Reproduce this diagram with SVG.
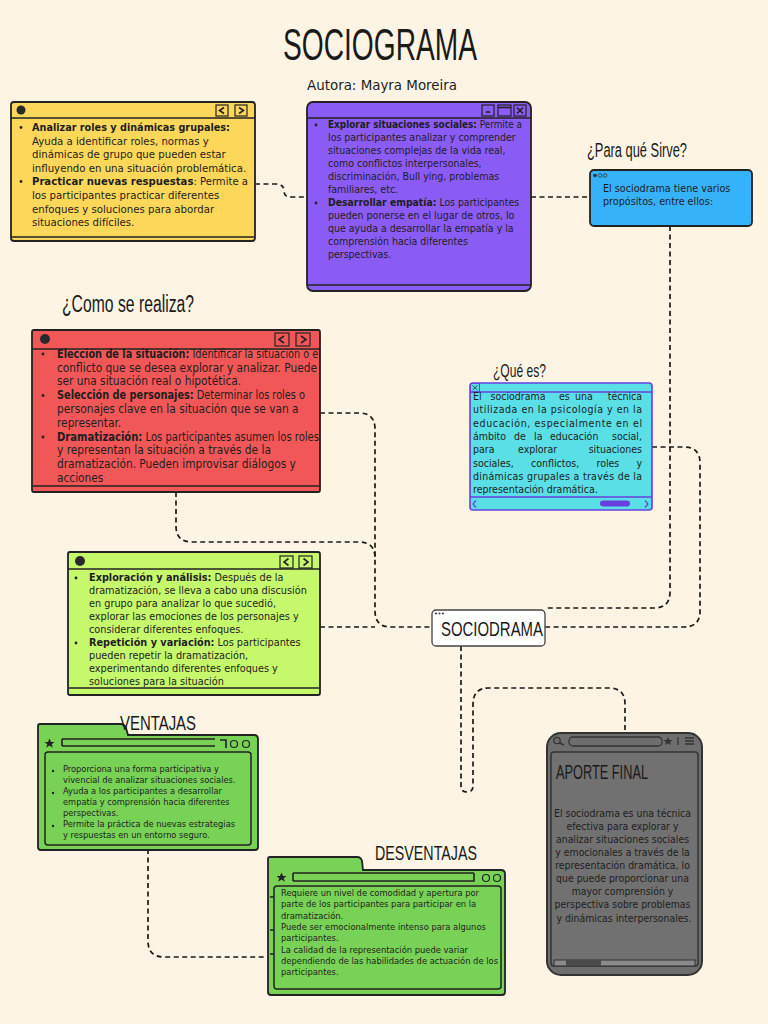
<svg xmlns="http://www.w3.org/2000/svg" width="768" height="1024" viewBox="0 0 768 1024">
<defs>
<style>
.h{font-family:'Liberation Sans',Arial,sans-serif;fill:#1a1a1a}
.t{font-family:'DejaVu Sans Condensed','DejaVu Sans',sans-serif;font-stretch:condensed;fill:#1e1e1e}
.b{font-weight:bold}
.box{stroke:#222;stroke-width:1.8}
.ln{stroke:#222;stroke-width:1.6;fill:none}
.conn{fill:none;stroke:#1a1a1a;stroke-width:1.7;stroke-dasharray:5 3.5}
.btn{fill:none;stroke:#222;stroke-width:1.2}
</style>
</defs>
<rect x="0" y="0" width="768" height="1024" fill="#FDF4E4"/>

<g id="title">
<text class="h" x="283" y="60" font-size="44" textLength="194" lengthAdjust="spacingAndGlyphs">SOCIOGRAMA</text>
<text class="t" x="307" y="90" font-size="13.5" textLength="150" lengthAdjust="spacingAndGlyphs" style="font-stretch:normal">Autora: Mayra Moreira</text>
</g>

<g id="connectors">
<path class="conn" d="M255,184 H276 Q284,184 284,191 V191 Q284,197 291,197 H307"/>
<path class="conn" d="M531,197 H590"/>
<path class="conn" d="M670,226 V592 Q670,608 654,608 H545"/>
<path class="conn" d="M652,447 H684 Q700,447 700,463 V611 Q700,627 684,627 H545"/>
<path class="conn" d="M320,413 H359 Q375,413 375,429 V611 Q375,627 391,627 H432"/>
<path class="conn" d="M176,492 V526 Q176,542 192,542 H359 Q375,542 375,558"/>
<path class="conn" d="M320,627 H375"/>
<path class="conn" d="M461,646 V786 Q461,792 467,792 Q473,792 473,786 V704 Q473,688 489,688 H609 Q625,688 625,704 V733"/>
<path class="conn" d="M148,849 V941 Q148,957 164,957 H269"/>
</g>

<g id="node-analizar">
<rect class="box" x="11" y="102" width="244" height="139" rx="3" fill="#FDD75A"/>
<line class="ln" x1="11" y1="118" x2="255" y2="118"/>
<line class="ln" x1="12" y1="237" x2="254" y2="237" stroke-width="1.4"/>
<circle cx="21" cy="110" r="4.5" fill="#2a2a2a"/>
<rect class="btn" x="216" y="105" width="12" height="11"/>
<path class="ln" d="M224,107.5 L219.5,110.5 L224,113.5" stroke-width="1.2"/>
<rect class="btn" x="235" y="105" width="12" height="11"/>
<path class="ln" d="M239,107.5 L243.5,110.5 L239,113.5" stroke-width="1.2"/>
<circle cx="21" cy="127.5" r="1.4" fill="#222"/>
<circle cx="21" cy="181.5" r="1.4" fill="#222"/>
<text class="t b" font-size="11.3" x="32" y="131" textLength="198" lengthAdjust="spacingAndGlyphs">Analizar roles y dinámicas grupales:</text>
<text class="t" font-size="11.3" x="32" y="185.4" textLength="216" lengthAdjust="spacingAndGlyphs"><tspan class="b">Practicar nuevas respuestas</tspan>: Permite a</text>
<text class="t" font-size="11.3">
<tspan x="32" y="144.6">Ayuda a identificar roles, normas y</tspan>
<tspan x="32" y="158.2">dinámicas de grupo que pueden estar</tspan>
<tspan x="32" y="171.8">influyendo en una situación problemática.</tspan>
<tspan x="32" y="199">los participantes practicar diferentes</tspan>
<tspan x="32" y="212.6">enfoques y soluciones para abordar</tspan>
<tspan x="32" y="226.2">situaciones difíciles.</tspan>
</text>
</g>

<g id="node-explorar">
<rect class="box" x="307" y="102" width="224" height="189" rx="6" fill="#8B5BF5"/>
<line class="ln" x1="307" y1="118" x2="531" y2="118"/>
<line class="ln" x1="308" y1="285" x2="530" y2="285" stroke-width="1.4"/>
<rect class="btn" x="482" y="105" width="12" height="11"/>
<line class="ln" x1="486" y1="112" x2="490" y2="112" stroke-width="1"/>
<rect class="btn" x="498" y="105" width="13" height="11"/>
<line class="ln" x1="498" y1="107.5" x2="511" y2="107.5" stroke-width="1"/>
<rect class="btn" x="514" y="105" width="12" height="11"/>
<path class="ln" d="M517,107.5 L523,113.5 M523,107.5 L517,113.5" stroke-width="1"/>
<circle cx="316" cy="125" r="1.4" fill="#222"/>
<circle cx="316" cy="203" r="1.4" fill="#222"/>
<text class="t" font-size="10.5" x="328" y="128.3" textLength="194" lengthAdjust="spacingAndGlyphs"><tspan class="b">Explorar situaciones sociales:</tspan> Permite a</text>
<text class="t" font-size="10.5" x="328" y="206.3" textLength="191" lengthAdjust="spacingAndGlyphs"><tspan class="b">Desarrollar empatía:</tspan> Los participantes</text>
<text class="t" font-size="10.5">
<tspan x="328" y="141.3">los participantes analizar y comprender</tspan>
<tspan x="328" y="154.3">situaciones complejas de la vida real,</tspan>
<tspan x="328" y="167.3">como conflictos interpersonales,</tspan>
<tspan x="328" y="180.3">discriminación, Bull ying, problemas</tspan>
<tspan x="328" y="193.3">familiares, etc.</tspan>
<tspan x="328" y="219.3">pueden ponerse en el lugar de otros, lo</tspan>
<tspan x="328" y="232.3">que ayuda a desarrollar la empatía y la</tspan>
<tspan x="328" y="245.3">comprensión hacia diferentes</tspan>
<tspan x="328" y="258.3">perspectivas.</tspan>
</text>
</g>

<g id="node-para">
<text class="h" x="587" y="157" font-size="20" textLength="100" lengthAdjust="spacingAndGlyphs">¿Para qué Sirve?</text>
<rect class="box" x="590" y="170" width="162" height="56" rx="4" fill="#36B2FB" stroke-width="1.6"/>
<circle cx="595" cy="175.5" r="1.8" fill="#333"/>
<circle cx="600" cy="175.5" r="1.8" fill="none" stroke="#333" stroke-width="0.8"/>
<circle cx="605" cy="175.5" r="1.8" fill="none" stroke="#333" stroke-width="0.8"/>
<text class="t" font-size="10.7">
<tspan x="603" y="192">El sociodrama tiene varios</tspan>
<tspan x="603" y="205">propósitos, entre ellos:</tspan>
</text>
</g>

<g id="node-como">
<text class="h" x="62" y="312" font-size="23" textLength="132" lengthAdjust="spacingAndGlyphs">¿Como se realiza?</text>
<rect class="box" x="32" y="330" width="288" height="162" rx="2" fill="#F25757"/>
<line class="ln" x1="32" y1="349" x2="320" y2="349"/>
<line class="ln" x1="33" y1="486" x2="319" y2="486" stroke-width="1.4"/>
<circle cx="45" cy="339" r="5" fill="#2a2a2a"/>
<rect class="btn" x="275" y="333" width="14" height="13"/>
<path class="ln" d="M284,336 L279,339.5 L284,343" stroke-width="1.3"/>
<rect class="btn" x="296" y="333" width="14" height="13"/>
<path class="ln" d="M301,336 L306,339.5 L301,343" stroke-width="1.3"/>
<circle cx="43" cy="354" r="1.4" fill="#222"/>
<circle cx="43" cy="395.5" r="1.4" fill="#222"/>
<circle cx="43" cy="437" r="1.4" fill="#222"/>
<text class="t" font-size="11.8" x="57" y="357.7" textLength="264" lengthAdjust="spacingAndGlyphs"><tspan class="b">Elección de la situación:</tspan> Identificar la situación o el</text>
<text class="t" font-size="11.8" x="57" y="399.1" textLength="248" lengthAdjust="spacingAndGlyphs"><tspan class="b">Selección de personajes:</tspan> Determinar los roles o</text>
<text class="t" font-size="11.8" x="57" y="440.5" textLength="262" lengthAdjust="spacingAndGlyphs"><tspan class="b">Dramatización:</tspan> Los participantes asumen los roles</text>
<text class="t" font-size="11.8">
<tspan x="57" y="371.5">conflicto que se desea explorar y analizar. Puede</tspan>
<tspan x="57" y="385.3">ser una situación real o hipotética.</tspan>
<tspan x="57" y="412.9">personajes clave en la situación que se van a</tspan>
<tspan x="57" y="426.7">representar.</tspan>
<tspan x="57" y="454.3">y representan la situación a través de la</tspan>
<tspan x="57" y="468.1">dramatización. Pueden improvisar diálogos y</tspan>
<tspan x="57" y="481.9">acciones</tspan>
</text>
</g>

<g id="node-que">
<text class="h" x="493" y="377" font-size="19" textLength="53" lengthAdjust="spacingAndGlyphs">¿Qué es?</text>
<rect x="470" y="383" width="182" height="127" rx="3" fill="#5ADFE6" stroke="#6A3FE0" stroke-width="1.6"/>
<line x1="470" y1="392" x2="652" y2="392" stroke="#6A3FE0" stroke-width="1.4"/>
<rect x="470.5" y="383.5" width="9" height="8.5" fill="none" stroke="#6A3FE0" stroke-width="1"/>
<path d="M472.5,385.5 L477.5,390 M477.5,385.5 L472.5,390" stroke="#333" stroke-width="0.9"/>
<line x1="470" y1="497" x2="652" y2="497" stroke="#6A3FE0" stroke-width="1.4"/>
<path d="M476,500.5 L473,504 L476,507.5" fill="none" stroke="#6A3FE0" stroke-width="1.2"/>
<path d="M645,500.5 L648,504 L645,507.5" fill="none" stroke="#6A3FE0" stroke-width="1.2"/>
<rect x="600" y="500.5" width="30" height="6" rx="3" fill="#6A3FE0"/>
<text class="t" font-size="10.5">
<tspan x="473" y="400">El</tspan><tspan x="490.5">sociodrama</tspan><tspan x="559">es</tspan><tspan x="575">una</tspan><tspan x="642" text-anchor="end">técnica</tspan>
</text>
<text class="t" font-size="10.5" x="473" y="413.3" textLength="169" lengthAdjust="spacing">utilizada en la psicología y en la</text>
<text class="t" font-size="10.5" x="473" y="426.6" textLength="169" lengthAdjust="spacing">educación, especialmente en el</text>
<text class="t" font-size="10.5">
<tspan x="473" y="439.9">ámbito</tspan><tspan x="514">de</tspan><tspan x="534">la</tspan><tspan x="550">educación</tspan><tspan x="642" text-anchor="end">social,</tspan>
</text>
<text class="t" font-size="10.5">
<tspan x="473" y="453.2">para</tspan><tspan x="518">explorar</tspan><tspan x="642" text-anchor="end">situaciones</tspan>
</text>
<text class="t" font-size="10.5">
<tspan x="473" y="466.5">sociales,</tspan><tspan x="531">conflictos,</tspan><tspan x="596.5">roles</tspan><tspan x="642" text-anchor="end">y</tspan>
</text>
<text class="t" font-size="10.5" x="473" y="479.8" textLength="169" lengthAdjust="spacing">dinámicas grupales a través de la</text>
<text class="t" font-size="10.5" x="473" y="493.1">representación dramática.</text>
</g>

<g id="node-exploracion">
<rect class="box" x="68" y="552" width="252" height="143" rx="2" fill="#C6F86C"/>
<line class="ln" x1="68" y1="569" x2="320" y2="569"/>
<line class="ln" x1="69" y1="688" x2="319" y2="688" stroke-width="1.4"/>
<circle cx="80" cy="561" r="5" fill="#2a2a2a"/>
<rect class="btn" x="280" y="556" width="13" height="12"/>
<path class="ln" d="M288.5,558.5 L284,562 L288.5,565.5" stroke-width="1.2"/>
<rect class="btn" x="299" y="556" width="13" height="12"/>
<path class="ln" d="M303.5,558.5 L308,562 L303.5,565.5" stroke-width="1.2"/>
<circle cx="76" cy="578" r="1.4" fill="#222"/>
<circle cx="76" cy="643" r="1.4" fill="#222"/>
<text class="t" font-size="10.8">
<tspan x="89" y="581"><tspan class="b">Exploración y análisis:</tspan> Después de la</tspan>
<tspan x="89" y="594">dramatización, se lleva a cabo una discusión</tspan>
<tspan x="89" y="607">en grupo para analizar lo que sucedió,</tspan>
<tspan x="89" y="620">explorar las emociones de los personajes y</tspan>
<tspan x="89" y="633">considerar diferentes enfoques.</tspan>
<tspan x="89" y="646"><tspan class="b">Repetición y variación:</tspan> Los participantes</tspan>
<tspan x="89" y="659">pueden repetir la dramatización,</tspan>
<tspan x="89" y="672">experimentando diferentes enfoques y</tspan>
<tspan x="89" y="685">soluciones para la situación</tspan>
</text>
</g>

<g id="node-sociodrama">
<rect x="432" y="610" width="113" height="36" rx="4" fill="#ffffff" stroke="#444" stroke-width="1.3"/>
<circle cx="436" cy="613.5" r="1.1" fill="#444"/>
<circle cx="439.5" cy="613.5" r="1.1" fill="#444"/>
<circle cx="443" cy="613.5" r="1.1" fill="#444"/>
<text class="h" x="441" y="636" font-size="20" textLength="102" lengthAdjust="spacingAndGlyphs">SOCIODRAMA</text>
</g>

<g id="node-ventajas">
<path class="box" d="M38,726 Q38,724 40,724 H121 Q124,724 126,728 L128,735 H254 Q258,735 258,739 V847 Q258,850 255,850 H41 Q38,850 38,847 Z" fill="#78D255"/>
<text class="h" x="120" y="730" font-size="20" textLength="76" lengthAdjust="spacingAndGlyphs">VENTAJAS</text>
<path d="M49.5,738.5 L51,742 L54.5,742 L51.7,744.2 L52.8,747.7 L49.5,745.6 L46.2,747.7 L47.3,744.2 L44.5,742 L48,742 Z" fill="#222"/>
<path class="ln" d="M62,739 V746 M62,746 H215 M62,739 H215" stroke-width="1.2"/>
<path class="ln" d="M220,740 H226 V748" stroke-width="1.2"/>
<circle cx="234" cy="744" r="3.5" fill="none" stroke="#222" stroke-width="1.2"/>
<circle cx="246" cy="744" r="3.5" fill="none" stroke="#222" stroke-width="1.2"/>
<rect x="45" y="752" width="206" height="93" rx="3" fill="none" stroke="#222" stroke-width="1.5"/>
<circle cx="53" cy="771" r="1.2" fill="#222"/>
<circle cx="53" cy="793" r="1.2" fill="#222"/>
<circle cx="53" cy="826" r="1.2" fill="#222"/>
<text class="t" font-size="9.2">
<tspan x="63" y="772.3">Proporciona una forma participativa y</tspan>
<tspan x="63" y="783.3">vivencial de analizar situaciones sociales.</tspan>
<tspan x="63" y="794.3">Ayuda a los participantes a desarrollar</tspan>
<tspan x="63" y="805.3">empatía y comprensión hacia diferentes</tspan>
<tspan x="63" y="816.3">perspectivas.</tspan>
<tspan x="63" y="827.3">Permite la práctica de nuevas estrategias</tspan>
<tspan x="63" y="838.3">y respuestas en un entorno seguro.</tspan>
</text>
</g>

<g id="node-desventajas">
<path class="box" d="M268,859 Q268,857 270,857 H357 Q361,857 362,861 L363,870 H501 Q505,870 505,874 V992 Q505,995 502,995 H271 Q268,995 268,992 Z" fill="#78D255"/>
<text class="h" x="375" y="860" font-size="20" textLength="102" lengthAdjust="spacingAndGlyphs">DESVENTAJAS</text>
<path d="M281.5,872.5 L283,876 L286.5,876 L283.7,878.2 L284.8,881.7 L281.5,879.6 L278.2,881.7 L279.3,878.2 L276.5,876 L280,876 Z" fill="#222"/>
<path class="ln" d="M293,873 V881 M293,881 H474 V873 M293,873 H474" stroke-width="1.2"/>
<circle cx="486" cy="878" r="3.5" fill="none" stroke="#222" stroke-width="1.2"/>
<circle cx="497" cy="878" r="3.5" fill="none" stroke="#222" stroke-width="1.2"/>
<rect x="274" y="886" width="227" height="103" rx="3" fill="none" stroke="#222" stroke-width="1.5"/>
<path class="ln" d="M270,897 H274 M270,930 H274 M270,954 H274" stroke-width="1.4"/>
<text class="t" font-size="9.3">
<tspan x="281" y="896">Requiere un nivel de comodidad y apertura por</tspan>
<tspan x="281" y="907.3">parte de los participantes para participar en la</tspan>
<tspan x="281" y="918.6">dramatización.</tspan>
<tspan x="281" y="929.9">Puede ser emocionalmente intenso para algunos</tspan>
<tspan x="281" y="941.2">participantes.</tspan>
<tspan x="281" y="952.5">La calidad de la representación puede variar</tspan>
<tspan x="281" y="963.8">dependiendo de las habilidades de actuación de los</tspan>
<tspan x="281" y="975.1">participantes.</tspan>
</text>
</g>

<g id="node-aporte">
<rect x="547" y="733" width="155" height="242" rx="14" fill="#6E6E6E" stroke="#333" stroke-width="2"/>
<rect x="551" y="752" width="147" height="214" rx="3" fill="#717171" stroke="#333" stroke-width="1.5"/>
<circle cx="557" cy="740.5" r="3.2" fill="none" stroke="#333" stroke-width="1.3"/>
<line x1="559.5" y1="743" x2="564" y2="745" stroke="#333" stroke-width="1.5"/>
<rect x="569" y="737" width="93" height="9" rx="4" fill="none" stroke="#333" stroke-width="1.3"/>
<path d="M668,737 L669.3,740 L672.5,740 L670,742 L671,745 L668,743.2 L665,745 L666,742 L663.5,740 L666.7,740 Z" fill="#333"/>
<line x1="678" y1="737" x2="678" y2="745" stroke="#333" stroke-width="1.3"/>
<path d="M685,738 H694 M685,741 H694 M685,744 H694" stroke="#333" stroke-width="1.3"/>
<rect x="554" y="960" width="141" height="6" fill="#8a8a8a" stroke="#333" stroke-width="1"/>
<rect x="566" y="960" width="35" height="6" fill="#4a4a4a"/>
<text class="h" x="556" y="779" font-size="20" textLength="92" lengthAdjust="spacingAndGlyphs">APORTE FINAL</text>
<text class="t" font-size="10.4" text-anchor="middle">
<tspan x="624" y="816.7">El sociodrama es una técnica</tspan>
<tspan x="624" y="829.8">efectiva para explorar y</tspan>
<tspan x="624" y="842.9">analizar situaciones sociales</tspan>
<tspan x="624" y="856">y emocionales a través de la</tspan>
<tspan x="624" y="869.1">representación dramática, lo</tspan>
<tspan x="624" y="882.2">que puede proporcionar una</tspan>
<tspan x="624" y="895.3">mayor comprensión y</tspan>
<tspan x="624" y="908.4">perspectiva sobre problemas</tspan>
<tspan x="624" y="921.5">y dinámicas interpersonales.</tspan>
</text>
</g>
</svg>
